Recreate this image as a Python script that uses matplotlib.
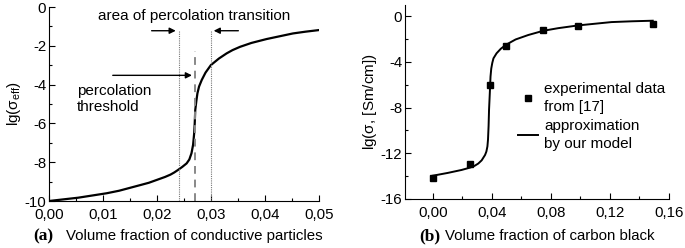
import matplotlib.pyplot as plt
from matplotlib.ticker import MultipleLocator, FormatStrFormatter

plt.rcParams['font.family'] = ['Liberation Sans', 'DejaVu Sans']

# ---- (a) model curve ----
phi_a = [0.0, 0.0054, 0.0107, 0.013, 0.0169, 0.0185, 0.0199, 0.0215, 0.0225,
         0.0232, 0.0239, 0.0247, 0.0255, 0.026, 0.0264, 0.0267, 0.0269,
         0.0270, 0.0271, 0.0273, 0.0275, 0.0278, 0.0283, 0.029, 0.0300,
         0.0315, 0.0329, 0.034, 0.0354, 0.0375, 0.0403, 0.043, 0.0452,
         0.0475, 0.0499]
lg_a = [-10.0, -9.83, -9.6, -9.47, -9.18, -9.06, -8.92, -8.76, -8.64,
        -8.53, -8.4, -8.24, -8.06, -7.86, -7.54, -7.1, -6.51,
        -6.0, -5.31, -4.85, -4.45, -4.1, -3.76, -3.38, -2.99,
        -2.65, -2.39, -2.22, -2.05, -1.85, -1.65, -1.49, -1.36,
        -1.27, -1.19]
transition = [0.024, 0.030]
threshold = 0.027

# ---- (b) experiment + model ----
phi_exp = [0.0, 0.025, 0.0389, 0.0497, 0.0748, 0.0985, 0.149]
lg_exp = [-14.15, -12.94, -6.05, -2.6, -1.19, -0.9, -0.73]
phi_b = [0.0, 0.01, 0.0194, 0.025, 0.0282, 0.0307, 0.033, 0.0353, 0.0362,
         0.0369, 0.0373, 0.0377, 0.038, 0.0385, 0.039, 0.0395, 0.0402,
         0.041, 0.0431, 0.046, 0.0497, 0.056, 0.0646, 0.0748, 0.085,
         0.0985, 0.121, 0.135, 0.149]
lg_b = [-13.96, -13.72, -13.46, -13.26, -13.1, -12.9, -12.62, -12.15, -11.85,
        -11.4, -10.8, -9.6, -8.2, -6.8, -5.3, -4.6, -4.1,
        -3.7, -3.26, -2.86, -2.5, -2.05, -1.66, -1.29, -1.06,
        -0.82, -0.53, -0.46, -0.41]

fig = plt.figure(figsize=(6.85, 2.48), dpi=100)
ax1 = fig.add_axes([0.0715, 0.1895, 0.394, 0.782])
ax2 = fig.add_axes([0.5912, 0.1976, 0.3854, 0.7839])

for ax in (ax1, ax2):
    ax.spines['top'].set_visible(False)
    ax.spines['right'].set_visible(False)
    ax.tick_params(which='both', direction='in', labelsize=10.8, width=0.8, pad=2)
    ax.tick_params(axis='x', pad=5)
    ax.tick_params(which='major', length=4)
    ax.tick_params(which='minor', length=2)

comma = lambda v, p: f"{v:.2f}".replace('.', ',')

# (a)
ax1.plot(phi_a, lg_a, color='black', lw=1.6)
for xv in transition:
    ax1.plot([xv, xv], [-10, -1.19], color='#777777', lw=0.8, ls=(0, (1, 1)))
ax1.plot([threshold, threshold], [-10, -2.27], color='#888888', lw=1.4, ls=(0, (4, 3)))
ax1.set_xlim(0, 0.05)
ax1.set_ylim(-10, 0)
ax1.xaxis.set_major_locator(MultipleLocator(0.01))
ax1.xaxis.set_minor_locator(MultipleLocator(0.005))
ax1.yaxis.set_major_locator(MultipleLocator(2))
ax1.yaxis.set_minor_locator(MultipleLocator(1))
ax1.xaxis.set_major_formatter(comma)
ax1.yaxis.set_major_formatter(FormatStrFormatter('%d'))
ax1.set_ylabel(r'lg($\mathregular{\sigma_{eff}}$)', fontsize=11, labelpad=1)

arrow = dict(arrowstyle='-|>', color='black', lw=1.0, mutation_scale=9)
ax1.annotate('', xy=(0.024, -1.22), xytext=(0.0185, -1.22), arrowprops=arrow)
ax1.annotate('', xy=(0.030, -1.22), xytext=(0.0356, -1.22), arrowprops=arrow)
ax1.annotate('', xy=(0.027, -3.52), xytext=(0.0113, -3.52), arrowprops=arrow)
ax1.text(0.0268, -0.45, 'area of percolation transition', ha='center', va='center', fontsize=11)
ax1.text(0.0052, -4.75, 'percolation\nthreshold', ha='left', va='center', fontsize=11,
         linespacing=1.2)

# (b)
ax2.plot(phi_b, lg_b, color='black', lw=1.4, label='approximation\nby our model')
ax2.plot(phi_exp, lg_exp, ls='none', marker='s', color='black', ms=5,
         label='experimental data\nfrom [17]')
ax2.set_xlim(-0.019, 0.16)
ax2.set_ylim(-16, 1)
ax2.xaxis.set_major_locator(MultipleLocator(0.04))
ax2.xaxis.set_minor_locator(MultipleLocator(0.02))
ax2.yaxis.set_major_locator(MultipleLocator(4))
ax2.yaxis.set_minor_locator(MultipleLocator(2))
ax2.xaxis.set_major_formatter(comma)
ax2.yaxis.set_major_formatter(FormatStrFormatter('%d'))
ax2.set_ylabel(r'lg($\mathregular{\sigma}$, [Sm/cm])', fontsize=11, labelpad=1)
h, l = ax2.get_legend_handles_labels()
leg = ax2.legend(h[::-1], l[::-1], loc='center left', bbox_to_anchor=(0.40, 0.425),
                 frameon=False, fontsize=11, handlelength=1.3, handletextpad=0.4,
                 labelspacing=0.3, borderpad=0)
for t in leg.get_texts():
    t.set_linespacing(1.35)

# captions
fig.text(33 / 685, 1 - 236 / 248, '(a)', fontsize=12.5, fontweight='bold',
         family='Liberation Serif', ha='left', va='center')
fig.text(66 / 685, 1 - 236 / 248, 'Volume fraction of conductive particles',
         fontsize=10.8, ha='left', va='center')
fig.text(419 / 685, 1 - 236 / 248, '(b)', fontsize=12.5, fontweight='bold',
         family='Liberation Serif', ha='left', va='center')
fig.text(445 / 685, 1 - 236 / 248, 'Volume fraction of carbon black',
         fontsize=10.8, ha='left', va='center')

fig.savefig('out.png', dpi=100)
